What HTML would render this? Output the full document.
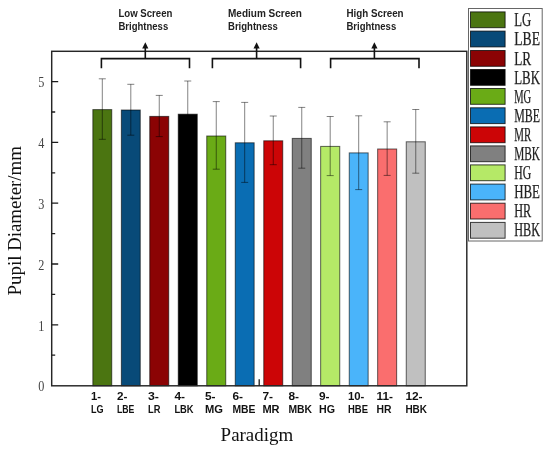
<!DOCTYPE html>
<html lang="en"><head><meta charset="utf-8"><title>Pupil Diameter by Paradigm</title>
<style>html,body{margin:0;padding:0;background:#fff}svg{display:block}.ser{font-family:"Liberation Serif",serif}.san{font-family:"Liberation Sans",sans-serif;font-weight:bold}</style></head><body>
<svg width="550" height="453" viewBox="0 0 550 453">
<rect width="550" height="453" fill="#fff"/>
<rect x="92.85" y="109.60" width="18.90" height="276.20" fill="#4b7511" stroke="#000" stroke-opacity="0.6" stroke-width="1"/>
<rect x="121.35" y="110.00" width="18.90" height="275.80" fill="#084a78" stroke="#000" stroke-opacity="0.6" stroke-width="1"/>
<rect x="149.75" y="116.40" width="19.00" height="269.40" fill="#8b0304" stroke="#000" stroke-opacity="0.6" stroke-width="1"/>
<rect x="178.25" y="114.20" width="19.00" height="271.60" fill="#000000" stroke="#000" stroke-opacity="0.6" stroke-width="1"/>
<rect x="206.75" y="136.00" width="19.00" height="249.80" fill="#6aab16" stroke="#000" stroke-opacity="0.6" stroke-width="1"/>
<rect x="235.25" y="142.80" width="18.90" height="243.00" fill="#0a6db3" stroke="#000" stroke-opacity="0.6" stroke-width="1"/>
<rect x="263.75" y="140.80" width="19.00" height="245.00" fill="#cc0506" stroke="#000" stroke-opacity="0.6" stroke-width="1"/>
<rect x="292.25" y="138.40" width="19.00" height="247.40" fill="#808080" stroke="#000" stroke-opacity="0.6" stroke-width="1"/>
<rect x="320.65" y="146.40" width="19.10" height="239.40" fill="#b5e967" stroke="#000" stroke-opacity="0.6" stroke-width="1"/>
<rect x="349.25" y="152.90" width="18.90" height="232.90" fill="#4ab4fa" stroke="#000" stroke-opacity="0.6" stroke-width="1"/>
<rect x="377.65" y="149.00" width="19.00" height="236.80" fill="#fa6e6e" stroke="#000" stroke-opacity="0.6" stroke-width="1"/>
<rect x="406.25" y="141.80" width="19.00" height="244.00" fill="#c0c0c0" stroke="#000" stroke-opacity="0.6" stroke-width="1"/>
<path d="M102.30 78.80V139.30M98.80 78.80h7M98.80 139.30h7" fill="none" stroke="#000" stroke-opacity="0.62" stroke-width="0.8"/>
<path d="M130.80 84.30V135.20M127.30 84.30h7M127.30 135.20h7" fill="none" stroke="#000" stroke-opacity="0.62" stroke-width="0.8"/>
<path d="M159.25 95.40V136.60M155.75 95.40h7M155.75 136.60h7" fill="none" stroke="#000" stroke-opacity="0.62" stroke-width="0.8"/>
<path d="M187.75 81.00V146.60M184.25 81.00h7M184.25 146.60h7" fill="none" stroke="#000" stroke-opacity="0.62" stroke-width="0.8"/>
<path d="M216.25 101.60V169.20M212.75 101.60h7M212.75 169.20h7" fill="none" stroke="#000" stroke-opacity="0.62" stroke-width="0.8"/>
<path d="M244.70 102.40V182.40M241.20 102.40h7M241.20 182.40h7" fill="none" stroke="#000" stroke-opacity="0.62" stroke-width="0.8"/>
<path d="M273.25 116.00V164.70M269.75 116.00h7M269.75 164.70h7" fill="none" stroke="#000" stroke-opacity="0.62" stroke-width="0.8"/>
<path d="M301.75 107.40V168.20M298.25 107.40h7M298.25 168.20h7" fill="none" stroke="#000" stroke-opacity="0.62" stroke-width="0.8"/>
<path d="M330.20 116.50V175.60M326.70 116.50h7M326.70 175.60h7" fill="none" stroke="#000" stroke-opacity="0.62" stroke-width="0.8"/>
<path d="M358.70 115.80V189.60M355.20 115.80h7M355.20 189.60h7" fill="none" stroke="#000" stroke-opacity="0.62" stroke-width="0.8"/>
<path d="M387.15 121.80V175.40M383.65 121.80h7M383.65 175.40h7" fill="none" stroke="#000" stroke-opacity="0.62" stroke-width="0.8"/>
<path d="M415.75 109.50V173.20M412.25 109.50h7M412.25 173.20h7" fill="none" stroke="#000" stroke-opacity="0.62" stroke-width="0.8"/>
<rect x="51.7" y="51.3" width="415.1" height="334.5" fill="none" stroke="#262626" stroke-width="1.45"/>
<path d="M51.7 355.20h3.5M51.7 324.80h6.5M51.7 294.40h3.5M51.7 264.00h6.5M51.7 233.60h3.5M51.7 203.20h6.5M51.7 172.80h3.5M51.7 142.40h6.5M51.7 112.00h3.5M51.7 81.60h6.5M259.2 385.8v-6.5" fill="none" stroke="#1a1a1a" stroke-width="1.3"/>
<text class="ser" x="44.3" y="391.40" font-size="14.6" text-anchor="end" fill="#444" textLength="6.1" lengthAdjust="spacingAndGlyphs">0</text>
<text class="ser" x="44.3" y="330.60" font-size="14.6" text-anchor="end" fill="#444" textLength="6.1" lengthAdjust="spacingAndGlyphs">1</text>
<text class="ser" x="44.3" y="269.80" font-size="14.6" text-anchor="end" fill="#444" textLength="6.1" lengthAdjust="spacingAndGlyphs">2</text>
<text class="ser" x="44.3" y="209.00" font-size="14.6" text-anchor="end" fill="#444" textLength="6.1" lengthAdjust="spacingAndGlyphs">3</text>
<text class="ser" x="44.3" y="148.20" font-size="14.6" text-anchor="end" fill="#444" textLength="6.1" lengthAdjust="spacingAndGlyphs">4</text>
<text class="ser" x="44.3" y="87.40" font-size="14.6" text-anchor="end" fill="#444" textLength="6.1" lengthAdjust="spacingAndGlyphs">5</text>
<text class="ser" transform="translate(21 295.5) rotate(-90)" font-size="19" fill="#111" textLength="149.5" lengthAdjust="spacingAndGlyphs">Pupil Diameter/mm</text>
<text class="ser" x="220.6" y="441" font-size="19" fill="#111" textLength="72.6" lengthAdjust="spacingAndGlyphs">Paradigm</text>
<text class="san" x="91" y="399.8" font-size="10.4" fill="#111" textLength="10" lengthAdjust="spacingAndGlyphs">1-</text>
<text class="san" x="91" y="413.3" font-size="10.4" fill="#111" textLength="12.6" lengthAdjust="spacingAndGlyphs">LG</text>
<text class="san" x="117" y="399.8" font-size="10.4" fill="#111" textLength="10.4" lengthAdjust="spacingAndGlyphs">2-</text>
<text class="san" x="117" y="413.3" font-size="10.4" fill="#111" textLength="17.4" lengthAdjust="spacingAndGlyphs">LBE</text>
<text class="san" x="148" y="399.8" font-size="10.4" fill="#111" textLength="11" lengthAdjust="spacingAndGlyphs">3-</text>
<text class="san" x="148" y="413.3" font-size="10.4" fill="#111" textLength="12.4" lengthAdjust="spacingAndGlyphs">LR</text>
<text class="san" x="174.4" y="399.8" font-size="10.4" fill="#111" textLength="10.6" lengthAdjust="spacingAndGlyphs">4-</text>
<text class="san" x="174.4" y="413.3" font-size="10.4" fill="#111" textLength="19.2" lengthAdjust="spacingAndGlyphs">LBK</text>
<text class="san" x="205" y="399.8" font-size="10.4" fill="#111" textLength="10.6" lengthAdjust="spacingAndGlyphs">5-</text>
<text class="san" x="205" y="413.3" font-size="10.4" fill="#111" textLength="18" lengthAdjust="spacingAndGlyphs">MG</text>
<text class="san" x="232.4" y="399.8" font-size="10.4" fill="#111" textLength="10.6" lengthAdjust="spacingAndGlyphs">6-</text>
<text class="san" x="232.4" y="413.3" font-size="10.4" fill="#111" textLength="23" lengthAdjust="spacingAndGlyphs">MBE</text>
<text class="san" x="262.4" y="399.8" font-size="10.4" fill="#111" textLength="10.6" lengthAdjust="spacingAndGlyphs">7-</text>
<text class="san" x="262.4" y="413.3" font-size="10.4" fill="#111" textLength="17.2" lengthAdjust="spacingAndGlyphs">MR</text>
<text class="san" x="288.4" y="399.8" font-size="10.4" fill="#111" textLength="10.6" lengthAdjust="spacingAndGlyphs">8-</text>
<text class="san" x="288.4" y="413.3" font-size="10.4" fill="#111" textLength="23.6" lengthAdjust="spacingAndGlyphs">MBK</text>
<text class="san" x="319" y="399.8" font-size="10.4" fill="#111" textLength="10.6" lengthAdjust="spacingAndGlyphs">9-</text>
<text class="san" x="319" y="413.3" font-size="10.4" fill="#111" textLength="16" lengthAdjust="spacingAndGlyphs">HG</text>
<text class="san" x="348" y="399.8" font-size="10.4" fill="#111" textLength="16.4" lengthAdjust="spacingAndGlyphs">10-</text>
<text class="san" x="348" y="413.3" font-size="10.4" fill="#111" textLength="20" lengthAdjust="spacingAndGlyphs">HBE</text>
<text class="san" x="376.6" y="399.8" font-size="10.4" fill="#111" textLength="16.4" lengthAdjust="spacingAndGlyphs">11-</text>
<text class="san" x="376.6" y="413.3" font-size="10.4" fill="#111" textLength="15" lengthAdjust="spacingAndGlyphs">HR</text>
<text class="san" x="405.4" y="399.8" font-size="10.4" fill="#111" textLength="17.2" lengthAdjust="spacingAndGlyphs">12-</text>
<text class="san" x="405.4" y="413.3" font-size="10.4" fill="#111" textLength="21.6" lengthAdjust="spacingAndGlyphs">HBK</text>
<text class="san" x="118.4" y="17.1" font-size="10.6" fill="#222" textLength="54.0" lengthAdjust="spacingAndGlyphs">Low Screen</text>
<text class="san" x="118.4" y="29.7" font-size="10.6" fill="#222" textLength="49.8" lengthAdjust="spacingAndGlyphs">Brightness</text>
<path d="M101.4 68.2V58.6H189.5V68.2M145.3 58.6V47" fill="none" stroke="#111" stroke-width="1.6"/>
<path d="M145.3 42.2l3.1 6.2h-6.2z" fill="#111"/>
<text class="san" x="228.0" y="17.1" font-size="10.6" fill="#222" textLength="74.0" lengthAdjust="spacingAndGlyphs">Medium Screen</text>
<text class="san" x="228.0" y="29.7" font-size="10.6" fill="#222" textLength="49.8" lengthAdjust="spacingAndGlyphs">Brightness</text>
<path d="M212.4 68.2V58.6H300.6V68.2M256.6 58.6V47" fill="none" stroke="#111" stroke-width="1.6"/>
<path d="M256.6 42.2l3.1 6.2h-6.2z" fill="#111"/>
<text class="san" x="346.4" y="17.1" font-size="10.6" fill="#222" textLength="57.2" lengthAdjust="spacingAndGlyphs">High Screen</text>
<text class="san" x="346.4" y="29.7" font-size="10.6" fill="#222" textLength="49.8" lengthAdjust="spacingAndGlyphs">Brightness</text>
<path d="M330.6 68.2V58.6H419.0V68.2M374.4 58.6V47" fill="none" stroke="#111" stroke-width="1.6"/>
<path d="M374.4 42.2l3.1 6.2h-6.2z" fill="#111"/>
<rect x="468.5" y="8.5" width="73.7" height="232.5" fill="#fff" stroke="#666" stroke-width="1"/>
<rect x="470.5" y="11.90" width="34.6" height="15.8" fill="#4b7511" stroke="#000" stroke-opacity="0.75" stroke-width="1"/>
<text class="ser" x="514.2" y="25.90" font-size="18.3" fill="#222" stroke="#222" stroke-width="0.25" textLength="17.0" lengthAdjust="spacingAndGlyphs">LG</text>
<rect x="470.5" y="31.10" width="34.6" height="15.8" fill="#084a78" stroke="#000" stroke-opacity="0.75" stroke-width="1"/>
<text class="ser" x="514.2" y="45.10" font-size="18.3" fill="#222" stroke="#222" stroke-width="0.25" textLength="25.8" lengthAdjust="spacingAndGlyphs">LBE</text>
<rect x="470.5" y="50.50" width="34.6" height="15.8" fill="#8b0304" stroke="#000" stroke-opacity="0.75" stroke-width="1"/>
<text class="ser" x="514.2" y="64.50" font-size="18.3" fill="#222" stroke="#222" stroke-width="0.25" textLength="17.0" lengthAdjust="spacingAndGlyphs">LR</text>
<rect x="470.5" y="69.50" width="34.6" height="15.8" fill="#000000" stroke="#000" stroke-opacity="0.75" stroke-width="1"/>
<text class="ser" x="514.2" y="83.50" font-size="18.3" fill="#222" stroke="#222" stroke-width="0.25" textLength="25.8" lengthAdjust="spacingAndGlyphs">LBK</text>
<rect x="470.5" y="88.50" width="34.6" height="15.8" fill="#6aab16" stroke="#000" stroke-opacity="0.75" stroke-width="1"/>
<text class="ser" x="514.2" y="102.50" font-size="18.3" fill="#222" stroke="#222" stroke-width="0.25" textLength="17.0" lengthAdjust="spacingAndGlyphs">MG</text>
<rect x="470.5" y="107.80" width="34.6" height="15.8" fill="#0a6db3" stroke="#000" stroke-opacity="0.75" stroke-width="1"/>
<text class="ser" x="514.2" y="121.80" font-size="18.3" fill="#222" stroke="#222" stroke-width="0.25" textLength="25.8" lengthAdjust="spacingAndGlyphs">MBE</text>
<rect x="470.5" y="126.90" width="34.6" height="15.8" fill="#cc0506" stroke="#000" stroke-opacity="0.75" stroke-width="1"/>
<text class="ser" x="514.2" y="140.90" font-size="18.3" fill="#222" stroke="#222" stroke-width="0.25" textLength="17.0" lengthAdjust="spacingAndGlyphs">MR</text>
<rect x="470.5" y="145.90" width="34.6" height="15.8" fill="#808080" stroke="#000" stroke-opacity="0.75" stroke-width="1"/>
<text class="ser" x="514.2" y="159.90" font-size="18.3" fill="#222" stroke="#222" stroke-width="0.25" textLength="25.8" lengthAdjust="spacingAndGlyphs">MBK</text>
<rect x="470.5" y="164.90" width="34.6" height="15.8" fill="#b5e967" stroke="#000" stroke-opacity="0.75" stroke-width="1"/>
<text class="ser" x="514.2" y="178.90" font-size="18.3" fill="#222" stroke="#222" stroke-width="0.25" textLength="17.0" lengthAdjust="spacingAndGlyphs">HG</text>
<rect x="470.5" y="184.10" width="34.6" height="15.8" fill="#4ab4fa" stroke="#000" stroke-opacity="0.75" stroke-width="1"/>
<text class="ser" x="514.2" y="198.10" font-size="18.3" fill="#222" stroke="#222" stroke-width="0.25" textLength="25.8" lengthAdjust="spacingAndGlyphs">HBE</text>
<rect x="470.5" y="203.20" width="34.6" height="15.8" fill="#fa6e6e" stroke="#000" stroke-opacity="0.75" stroke-width="1"/>
<text class="ser" x="514.2" y="217.20" font-size="18.3" fill="#222" stroke="#222" stroke-width="0.25" textLength="17.0" lengthAdjust="spacingAndGlyphs">HR</text>
<rect x="470.5" y="222.40" width="34.6" height="15.8" fill="#c0c0c0" stroke="#000" stroke-opacity="0.75" stroke-width="1"/>
<text class="ser" x="514.2" y="236.40" font-size="18.3" fill="#222" stroke="#222" stroke-width="0.25" textLength="25.8" lengthAdjust="spacingAndGlyphs">HBK</text>
</svg></body></html>
